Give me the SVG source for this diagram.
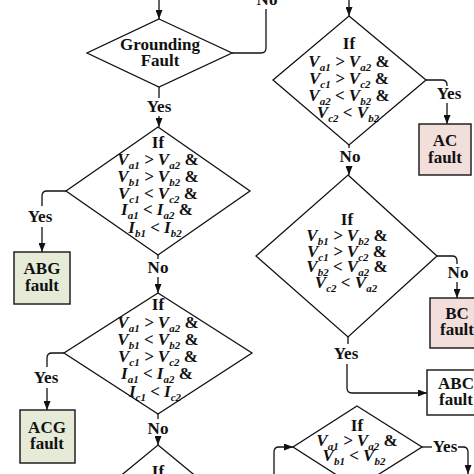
<svg xmlns="http://www.w3.org/2000/svg" width="474" height="474" viewBox="0 0 474 474">
<style>
.t{font-family:"Liberation Serif","Times New Roman",serif;font-weight:bold;font-size:17px;text-anchor:middle;fill:#111}
.c{font-family:"Liberation Serif","Times New Roman",serif;font-weight:bold;font-style:italic;font-size:17px;text-anchor:middle;fill:#111}
.s{font-size:11px}
.n{font-style:normal}
.d{fill:#fff;stroke:#111;stroke-width:1.3}
.bg{fill:#e6ebd8;stroke:#222;stroke-width:1.5}
.bp{fill:#f2dedb;stroke:#222;stroke-width:1.5}
.bw{fill:#fff;stroke:#222;stroke-width:1.5}
.e{fill:none;stroke:#111;stroke-width:1.3}
</style>
<defs>
<marker id="ah" viewBox="0 0 9 7" markerWidth="9" markerHeight="7" refX="9" refY="3.5" orient="auto" markerUnits="userSpaceOnUse">
<path d="M0,0 L9,3.5 L0,7 z" fill="#111"/>
</marker>
</defs>
<rect width="474" height="474" fill="#fff"/>

<g id="connectors">
<path class="e" d="M159,0 V19" marker-end="url(#ah)"/>
<path class="e" d="M232,53 H261 Q266,53 266,48 V9"/>
<text class="t" x="267" y="5">No</text>
<path class="e" d="M159,87 V98"/>
<text class="t" x="159" y="112">Yes</text>
<path class="e" d="M159,116 V127" marker-end="url(#ah)"/>
<path class="e" d="M66,191 H47 Q42,191 42,196 V206"/>
<text class="t" x="40" y="222">Yes</text>
<path class="e" d="M42,227 V252" marker-end="url(#ah)"/>
<path class="e" d="M158,255 V259"/>
<text class="t" x="158" y="273">No</text>
<path class="e" d="M158,277 V293" marker-end="url(#ah)"/>
<path class="e" d="M64,353 H52 Q47,353 47,358 V367"/>
<text class="t" x="46" y="383">Yes</text>
<path class="e" d="M47,388 V410" marker-end="url(#ah)"/>
<path class="e" d="M158,414 V419"/>
<text class="t" x="158" y="434">No</text>
<path class="e" d="M158,438 V445" marker-end="url(#ah)"/>
<path class="e" d="M349,0 V16" marker-end="url(#ah)"/>
<path class="e" d="M426,80 H442 Q447,80 447,85 V86"/>
<text class="t" x="449" y="99">Yes</text>
<path class="e" d="M447,103 V124" marker-end="url(#ah)"/>
<path class="e" d="M349,145 V148"/>
<text class="t" x="350" y="162">No</text>
<path class="e" d="M349,166 V175" marker-end="url(#ah)"/>
<path class="e" d="M437,256 H452 Q457,256 457,261 V264"/>
<text class="t" x="458" y="278">No</text>
<path class="e" d="M457,282 V298" marker-end="url(#ah)"/>
<path class="e" d="M348,337 V344"/>
<text class="t" x="346" y="359">Yes</text>
<path class="e" d="M347,364 V388 Q347,393 352,393 H427" marker-end="url(#ah)"/>
<path class="e" d="M422,447 H432"/>
<text class="t" x="445" y="452">Yes</text>
<path class="e" d="M458,447 H463 Q468,447 468,452 V474" marker-end="url(#ah)"/>
<path class="e" d="M274,474 V452 Q274,447 279,447 H293" marker-end="url(#ah)"/>
</g>

<g id="grounding">
<polygon class="d" points="159,19 232,53 159,87 87,53"/>
<text class="t" x="160" y="50">Grounding</text>
<text class="t" x="160" y="66">Fault</text>
</g>

<g id="cond-abg">
<polygon class="d" points="158,127 250,191 158,255 66,191"/>
<text class="t" x="158" y="148">If</text>
<text class="c" x="158" y="165">V<tspan class="s" dy="4">a1</tspan><tspan dy="-4"> &gt; V</tspan><tspan class="s" dy="4">a2</tspan><tspan class="n" dy="-4"> &amp;</tspan></text>
<text class="c" x="158" y="182">V<tspan class="s" dy="4">b1</tspan><tspan dy="-4"> &gt; V</tspan><tspan class="s" dy="4">b2</tspan><tspan class="n" dy="-4"> &amp;</tspan></text>
<text class="c" x="158" y="199">V<tspan class="s" dy="4">c1</tspan><tspan dy="-4"> &lt; V</tspan><tspan class="s" dy="4">c2</tspan><tspan class="n" dy="-4"> &amp;</tspan></text>
<text class="c" x="157" y="215">I<tspan class="s" dy="4">a1</tspan><tspan dy="-4"> &lt; I</tspan><tspan class="s" dy="4">a2</tspan><tspan class="n" dy="-4"> &amp;</tspan></text>
<text class="c" x="155" y="233">I<tspan class="s" dy="4">b1</tspan><tspan dy="-4"> &lt; I</tspan><tspan class="s" dy="4">b2</tspan></text>
</g>

<g id="abg-fault">
<rect class="bg" x="14" y="252" width="56" height="52"/>
<text class="t" x="42" y="274">ABG</text>
<text class="t" x="42" y="291">fault</text>
</g>

<g id="cond-acg">
<polygon class="d" points="158,293 252,353 158,414 64,353"/>
<text class="t" x="158" y="310">If</text>
<text class="c" x="158" y="328">V<tspan class="s" dy="4">a1</tspan><tspan dy="-4"> &gt; V</tspan><tspan class="s" dy="4">a2</tspan><tspan class="n" dy="-4"> &amp;</tspan></text>
<text class="c" x="158" y="345">V<tspan class="s" dy="4">b1</tspan><tspan dy="-4"> &lt; V</tspan><tspan class="s" dy="4">b2</tspan><tspan class="n" dy="-4"> &amp;</tspan></text>
<text class="c" x="158" y="362">V<tspan class="s" dy="4">c1</tspan><tspan dy="-4"> &gt; V</tspan><tspan class="s" dy="4">c2</tspan><tspan class="n" dy="-4"> &amp;</tspan></text>
<text class="c" x="157" y="379">I<tspan class="s" dy="4">a1</tspan><tspan dy="-4"> &lt; I</tspan><tspan class="s" dy="4">a2</tspan><tspan class="n" dy="-4"> &amp;</tspan></text>
<text class="c" x="155" y="397">I<tspan class="s" dy="4">c1</tspan><tspan dy="-4"> &lt; I</tspan><tspan class="s" dy="4">c2</tspan></text>
</g>

<g id="acg-fault">
<rect class="bg" x="20" y="410" width="55" height="53"/>
<text class="t" x="47" y="433">ACG</text>
<text class="t" x="47" y="449">fault</text>
</g>

<g id="cond-next-left">
<polygon class="d" points="158,445 238,511 158,577 78,511"/>
<text class="t" x="158" y="477">If</text>
</g>

<g id="cond-ac">
<polygon class="d" points="349,16 426,80 349,145 273,80"/>
<text class="t" x="349" y="49">If</text>
<text class="c" x="349" y="67">V<tspan class="s" dy="4">a1</tspan><tspan dy="-4"> &gt; V</tspan><tspan class="s" dy="4">a2</tspan><tspan class="n" dy="-4">  &amp;</tspan></text>
<text class="c" x="349" y="84">V<tspan class="s" dy="4">c1</tspan><tspan dy="-4"> &gt; V</tspan><tspan class="s" dy="4">c2</tspan><tspan class="n" dy="-4">  &amp;</tspan></text>
<text class="c" x="349" y="101">V<tspan class="s" dy="4">a2</tspan><tspan dy="-4"> &lt; V</tspan><tspan class="s" dy="4">b2</tspan><tspan class="n" dy="-4">  &amp;</tspan></text>
<text class="c" x="348" y="118">V<tspan class="s" dy="4">c2</tspan><tspan dy="-4"> &lt; V</tspan><tspan class="s" dy="4">b2</tspan></text>
</g>

<g id="ac-fault">
<rect class="bp" x="419" y="124" width="52" height="51"/>
<text class="t" x="445" y="146">AC</text>
<text class="t" x="445" y="163">fault</text>
</g>

<g id="cond-bc">
<polygon class="d" points="348,175 437,256 348,337 256,256"/>
<text class="t" x="347" y="225">If</text>
<text class="c" x="347" y="241">V<tspan class="s" dy="4">b1</tspan><tspan dy="-4"> &gt; V</tspan><tspan class="s" dy="4">b2</tspan><tspan class="n" dy="-4">  &amp;</tspan></text>
<text class="c" x="347" y="257">V<tspan class="s" dy="4">c1</tspan><tspan dy="-4"> &gt; V</tspan><tspan class="s" dy="4">c2</tspan><tspan class="n" dy="-4">  &amp;</tspan></text>
<text class="c" x="347" y="272">V<tspan class="s" dy="4">b2</tspan><tspan dy="-4"> &lt; V</tspan><tspan class="s" dy="4">a2</tspan><tspan class="n" dy="-4">  &amp;</tspan></text>
<text class="c" x="346" y="288">V<tspan class="s" dy="4">c2</tspan><tspan dy="-4"> &lt; V</tspan><tspan class="s" dy="4">a2</tspan></text>
</g>

<g id="bc-fault">
<rect class="bp" x="430" y="298" width="56" height="50"/>
<text class="t" x="457" y="319">BC</text>
<text class="t" x="457" y="335">fault</text>
</g>

<g id="abc-fault">
<rect class="bw" x="427" y="370" width="58" height="45"/>
<text class="t" x="456" y="389">ABC</text>
<text class="t" x="456" y="405">fault</text>
</g>

<g id="cond-next-right">
<polygon class="d" points="357,406 422,447 357,488 293,447"/>
<text class="t" x="357" y="431">If</text>
<text class="c" x="357" y="446">V<tspan class="s" dy="4">a1</tspan><tspan dy="-4"> &gt; V</tspan><tspan class="s" dy="4">a2</tspan><tspan class="n" dy="-4">  &amp;</tspan></text>
<text class="c" x="354" y="461">V<tspan class="s" dy="4">b1</tspan><tspan dy="-4"> &lt; V</tspan><tspan class="s" dy="4">b2</tspan></text>
</g>
</svg>
